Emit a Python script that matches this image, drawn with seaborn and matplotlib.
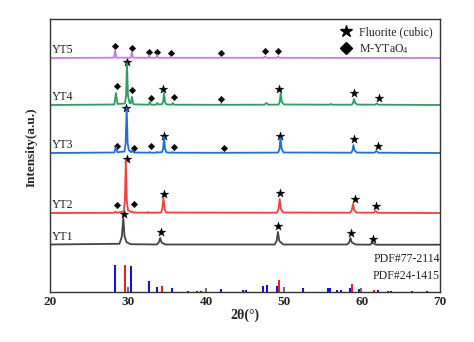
import numpy as np
import pandas as pd
import seaborn as sns
import matplotlib
matplotlib.use("Agg")
import matplotlib.pyplot as plt
from matplotlib.lines import Line2D

# ---------------- data ----------------
series_names = ["YT1", "YT2", "YT3", "YT4", "YT5"]
offsets = [47, 79, 139, 187, 234]

yt1_x = [20, 28.9, 29.2, 29.4, 29.55, 29.8, 30.3, 33.7, 33.95, 34.12, 34.3, 34.8,
         48.8, 49.05, 49.22, 49.4, 49.9, 58.1, 58.35, 58.52, 58.7, 59.2,
         61.0, 61.38, 61.8, 70]
yt1_y = [0.5, 1.2, 8, 27, 9, 3, 0.8, 0.5, 2.5, 7, 2.5, 0.5,
         0.5, 4, 13, 4, 0.5, 0.5, 2.5, 7, 2.5, 0.5,
         0.3, 2, 0.3, 0.3]

yt2_x = [20, 28.2, 28.4, 28.6, 29.45, 29.6, 29.72, 29.85, 30.0, 30.4, 30.55, 30.7,
         32.5, 32.6, 32.7, 34.25, 34.4, 34.55, 34.7, 34.9,
         49.1, 49.3, 49.45, 49.6, 49.9, 58.5, 58.7, 58.85, 59.0, 59.3,
         61.5, 61.75, 62.0, 70]
yt2_y = [0, 0.2, 1.2, 0.3, 1.5, 12, 53, 12, 3, 0.8, 1.5, 0.5,
         0.3, 1, 0.3, 0.5, 4, 15, 4, 0.5,
         0.3, 4, 14, 4, 0.5, 0.3, 3, 9, 3, 0.4,
         0.3, 2, 0.2, 0]

yt3_x = [20, 28.25, 28.45, 28.65, 29.55, 29.7, 29.83, 29.95, 30.1, 30.4, 30.55, 30.75,
         32.7, 32.8, 32.9, 33.6, 33.7, 33.8, 34.35, 34.5, 34.62, 34.75, 34.95,
         35.6, 35.7, 35.8, 41.9, 42.0, 42.1, 49.25, 49.42, 49.55, 49.7, 49.95,
         58.6, 58.78, 58.9, 59.05, 59.35, 61.6, 61.85, 62.1, 70]
yt3_y = [0, 0.5, 6, 0.8, 1.5, 10, 45, 10, 3, 0.8, 2.5, 0.5,
         0.3, 1, 0.3, 0.3, 1, 0.5, 0.8, 4, 16, 4, 0.5,
         0.3, 1, 0.3, 0.2, 0.6, 0.2, 0.4, 4, 15, 4, 0.5,
         0.3, 2.5, 8, 2.5, 0.4, 0.3, 2, 0.3, 0]

yt4_x = [20, 28.25, 28.45, 28.65, 29.6, 29.75, 29.87, 30.0, 30.2, 30.35, 30.5, 30.7,
         32.65, 32.8, 32.95, 33.6, 33.75, 33.9, 34.35, 34.5, 34.62, 34.75, 34.95,
         35.6, 35.75, 35.9, 41.85, 41.95, 42.05, 47.5, 47.75, 48.0,
         49.3, 49.45, 49.58, 49.72, 50.0, 55.8, 56.0, 56.2,
         58.7, 58.85, 58.98, 59.12, 59.4, 61.7, 61.9, 62.1, 70]
yt4_y = [0, 0.5, 12, 1, 1.5, 9, 42, 9, 2, 1.5, 8, 0.7,
         0.3, 3, 0.3, 0.3, 2, 0.5, 0.8, 3, 12, 3, 0.5,
         0.3, 2, 0.3, 0.2, 1, 0.2, 0.3, 2, 0.3,
         0.4, 3, 12, 3, 0.5, 0.3, 1, 0.3,
         0.3, 2, 6, 2, 0.4, 0.3, 1.5, 0.3, 0]

yt5_x = [20, 28.2, 28.35, 28.5, 30.35, 30.5, 30.65, 32.6, 32.7, 32.8,
         33.6, 33.72, 33.85, 35.4, 35.5, 35.6, 41.8, 41.92, 42.05,
         47.4, 47.56, 47.7, 49.1, 49.23, 49.35, 70]
yt5_y = [0, 0.3, 8, 0.3, 0.3, 6, 0.3, 0.2, 3, 0.2,
         0.2, 3, 0.2, 0.2, 1.5, 0.2, 0.2, 1, 0.2,
         0.2, 1.5, 0.2, 0.2, 1.5, 0.2, 0]

# phase markers (2theta, absolute height on plot)
star_x = [29.5, 34.2, 49.2, 58.6, 61.4,
          29.9, 34.6, 49.5, 59.1, 61.8,
          29.74, 34.6, 49.5, 59.0, 62.1,
          29.87, 34.5, 49.4, 59.0, 62.2]
star_y = [78, 60, 66, 59, 53,
          133, 98, 99, 93, 86,
          184, 156, 156, 153, 146,
          230, 203, 203, 199, 194]
diamond_x = [28.6, 30.8,
             28.6, 30.8, 33.0, 35.9, 42.3,
             28.6, 30.5, 32.9, 35.9, 41.9,
             28.33, 30.51, 32.69, 33.72, 35.51, 41.92, 47.56, 49.23]
diamond_y = [87, 88,
             146, 144, 146, 145, 144,
             206, 202, 194, 195, 193,
             246, 244, 240, 240, 239, 239, 241, 241]

# reference patterns (sticks)
pdf77_x = [29.6, 34.3, 49.4, 58.7, 61.6]
pdf77_h = [27, 6, 12, 8, 2]
pdf24_x = [28.33, 30.4, 32.7, 33.7, 35.6, 37.7, 38.8, 39.3, 41.9, 44.7, 45.1,
           47.3, 47.8, 49.15, 52.4, 55.7, 55.9, 56.8, 57.3, 58.5, 59.6,
           61.6, 62.1, 63.3, 63.7, 66.4, 68.3]
pdf24_h = [27, 26, 11, 5, 4, 1, 1, 1, 3, 2, 2,
           6, 7, 6, 4, 4, 4, 2, 2, 4, 3,
           1, 2, 1, 1, 0.6, 1]
other_x = [30.0, 40.0, 50.0, 59.9]
other_h = [5, 4, 5, 4]

pdf_labels = ["PDF#77-2114", "PDF#24-1415"]
legend_labels = ["Fluorite (cubic)", "M-YTaO$\\mathregular{_4}$"]
x_label = "2θ(°)"
y_label = "Intensity(a.u.)"
x_ticks = [20, 30, 40, 50, 60, 70]

colors = ["#444444", "#f2403f", "#1f6fdd", "#2f9e66", "#c47fe0"]

# ---------------- plotting ----------------
sns.set_theme(style="white")
plt.rcParams["font.family"] = ["Liberation Serif", "DejaVu Serif"]
plt.rcParams["mathtext.fontset"] = "stix"

fig = plt.figure(figsize=(4.74, 3.42), dpi=100)
ax = fig.add_axes([50 / 474, 50 / 342, 390 / 474, 273 / 342])

xs = [yt1_x, yt2_x, yt3_x, yt4_x, yt5_x]
ys = [yt1_y, yt2_y, yt3_y, yt4_y, yt5_y]
frames = []
for name, off, x, y in zip(series_names, offsets, xs, ys):
    frames.append(pd.DataFrame({"two_theta": x,
                                "intensity": np.array(y) + off,
                                "sample": name}))
df = pd.concat(frames, ignore_index=True)
sns.lineplot(data=df, x="two_theta", y="intensity", hue="sample",
             palette=dict(zip(series_names, colors)), sort=False,
             estimator=None, lw=1.3, legend=False, ax=ax)

# sticks
ax.vlines(pdf24_x, 0, pdf24_h, colors="#1414d8", lw=1.5)
ax.vlines(other_x, 0, other_h, colors="#555555", lw=1.2)
ax.vlines(pdf77_x, 0, pdf77_h, colors="#e82020", lw=1.5)

# markers
sns.scatterplot(x=star_x, y=star_y, marker="*", s=42, color="black",
                edgecolor="black", linewidth=0.3, ax=ax, legend=False)
sns.scatterplot(x=diamond_x, y=diamond_y, marker="D", s=11, color="black",
                edgecolor="black", linewidth=0.3, ax=ax, legend=False)

# sample labels
for name, off in zip(series_names, offsets):
    ax.text(20.25, off + 8, name, fontsize=8.5, va="center", ha="left",
            color="#222222")

ax.text(69.95, 33, pdf_labels[0], fontsize=8.5, ha="right", va="center",
        color="#222222")
ax.text(69.95, 16, pdf_labels[1], fontsize=8.5, ha="right", va="center",
        color="#222222")

handles = [Line2D([], [], ls="", marker="*", ms=9, color="black"),
           Line2D([], [], ls="", marker="D", ms=6, color="black")]
ax.legend(handles, legend_labels, loc="upper right", frameon=False,
          fontsize=8.5, handlelength=1.0, handletextpad=0.6,
          borderaxespad=0.1, borderpad=0.5, labelspacing=0.35)

ax.set_xlim(20, 70)
ax.set_ylim(0, 273)
ax.set_xticks(x_ticks)
ax.set_xticklabels([str(t) for t in x_ticks], fontsize=9.5, fontweight="bold")
ax.set_yticks([])
ax.tick_params(axis="x", length=0, pad=3)
ax.set_xlabel(x_label, fontsize=10, fontweight="bold", labelpad=0)
ax.set_ylabel(y_label, fontsize=9.5, fontweight="bold")
ax.yaxis.set_label_coords(-0.033, 0.53)
for sp in ax.spines.values():
    sp.set_color("#333333")
    sp.set_linewidth(1.0)

fig.savefig("out.png", dpi=100)
